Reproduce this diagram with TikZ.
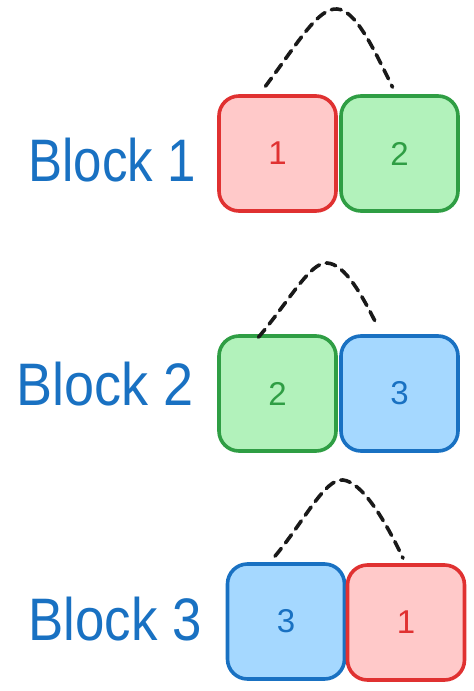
\documentclass[tikz,border=0pt]{standalone}
\usepackage{graphicx}
\usepackage{fontspec}
\setmainfont{Liberation Sans}
\definecolor{rstroke}{HTML}{E03131}
\definecolor{rfill}{HTML}{FFC9C9}
\definecolor{gstroke}{HTML}{2F9E44}
\definecolor{gfill}{HTML}{B2F2BB}
\definecolor{bstroke}{HTML}{1971C2}
\definecolor{bfill}{HTML}{A5D8FF}
\tikzset{
  cell/.style={rounded corners=20pt, line width=3.6pt, minimum width=117pt, minimum height=115pt, inner sep=0pt, font=\fontsize{33}{33}\selectfont},
  redcell/.style={cell, draw=rstroke, fill=rfill, text=rstroke},
  greencell/.style={cell, draw=gstroke, fill=gfill, text=gstroke},
  bluecell/.style={cell, draw=bstroke, fill=bfill, text=bstroke},
  blocklabel/.style={anchor=base, text=bstroke, font=\fontsize{60}{60}\selectfont, inner sep=0pt},
  link/.style={dashed, dash pattern=on 10pt off 7pt, line width=3.6pt, line cap=round, black!90}
}
\begin{document}
\begin{tikzpicture}[x=1pt,y=-1pt]
\useasboundingbox (0,0) rectangle (474,691);
% Row 1
\node[redcell] (a1) at (277.5,153.5) {1};
\node[greencell] (a2) at (399.5,153.5) {2};
\node[blocklabel] (l1) at (112,181) {\scalebox{0.85}[1]{Block 1}};
\coordinate (s1) at ([xshift=-12pt,yshift=8pt]a1.north);
\coordinate (e1) at ([xshift=-7pt,yshift=7pt]a2.north);
\draw[link] (s1) .. controls (300,40) and (318,8) .. (337,9) .. controls (355,10) and (372,45) .. (e1);
% Row 2
\node[greencell] (b1) at (277.5,393.5) {2};
\node[bluecell] (b2) at (399.5,393.5) {3};
\node[blocklabel] (l2) at (105,405) {\scalebox{0.9}[1]{Block 2}};
\coordinate (s2) at ([xshift=-19pt,yshift=-3pt]b1.north);
\coordinate (e2) at ([xshift=-22pt,yshift=8pt]b2.north);
\draw[link] (s2) .. controls (290,300) and (310,262) .. (327,263) .. controls (345,264) and (362,295) .. (e2);
% Row 3
\node[bluecell] (c1) at (286,621.5) {3};
\node[redcell] (c2) at (406,622.5) {1};
\node[blocklabel] (l3) at (115,640) {\scalebox{0.88}[1]{Block 3}};
\coordinate (s3) at ([xshift=-11pt,yshift=6pt]c1.north);
\coordinate (e3) at ([xshift=-3pt,yshift=5pt]c2.north);
\draw[link] (s3) .. controls (305,520) and (325,478) .. (343,480) .. controls (362,482) and (385,520) .. (e3);
\end{tikzpicture}
\end{document}
